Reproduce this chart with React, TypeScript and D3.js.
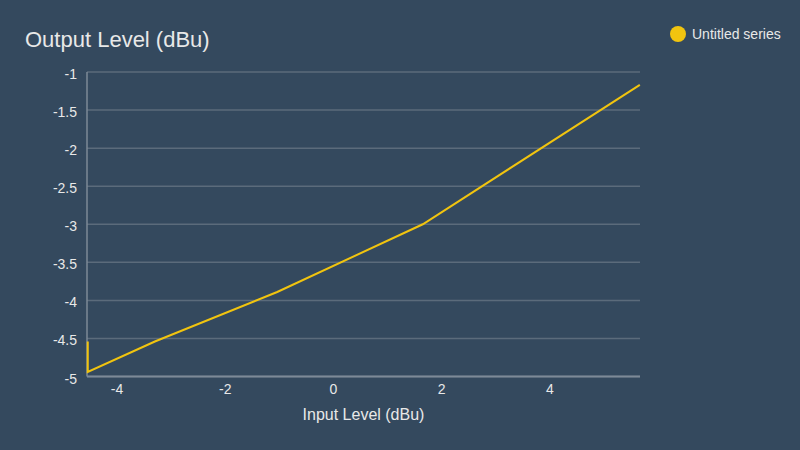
import React, { useRef, useEffect } from "react";
import * as d3 from "d3";

const inputLevels = [-4.54, -4.54, -3.3, -1.04, 1.65, 5.66];
const outputLevels = [-4.54, -4.94, -4.54, -3.89, -3.0, -1.17];
const xTicks = [-4, -2, 0, 2, 4];
const yTicks = [-1, -1.5, -2, -2.5, -3, -3.5, -4, -4.5, -5];
const seriesName = "Untitled series";

const App = () => {
  const ref = useRef(null);

  useEffect(() => {
    if (!ref.current) return;
    const width = 800;
    const height = 450;
    const margin = { top: 72, right: 160, bottom: 74, left: 87 };

    d3.select(ref.current).select("svg").remove();

    const svg = d3
      .select(ref.current)
      .append("svg")
      .attr("width", width)
      .attr("height", height)
      .style("display", "block")
      .style("font-family", "'Liberation Sans', Arial, sans-serif");

    svg.append("rect").attr("width", width).attr("height", height).attr("fill", "#34495e");

    const x = d3
      .scaleLinear()
      .domain([-4.554, 5.663])
      .range([margin.left, width - margin.right]);
    const y = d3
      .scaleLinear()
      .domain([-5, -1])
      .range([height - margin.bottom + 0.5, margin.top]);

    // horizontal grid
    svg
      .append("g")
      .selectAll("line")
      .data(yTicks)
      .join("line")
      .attr("x1", margin.left)
      .attr("x2", width - margin.right)
      .attr("y1", (d) => y(d))
      .attr("y2", (d) => y(d))
      .attr("stroke", "#5b6b7b")
      .attr("stroke-width", 1.5);

    // axes lines
    svg
      .append("line")
      .attr("x1", margin.left)
      .attr("x2", margin.left)
      .attr("y1", y(-1))
      .attr("y2", y(-5))
      .attr("stroke", "#7d8a97")
      .attr("stroke-width", 1.5);
    svg
      .append("line")
      .attr("x1", margin.left)
      .attr("x2", width - margin.right)
      .attr("y1", y(-5))
      .attr("y2", y(-5))
      .attr("stroke", "#7d8a97")
      .attr("stroke-width", 2);

    svg
      .append("g")
      .selectAll("text")
      .data(yTicks)
      .join("text")
      .attr("x", 77)
      .attr("y", (d) => y(d) + 7)
      .attr("text-anchor", "end")
      .attr("fill", "#e8e8e8")
      .attr("font-size", 14)
      .text((d) => String(d));

    svg
      .append("g")
      .selectAll("text")
      .data(xTicks)
      .join("text")
      .attr("x", (d) => x(d))
      .attr("y", 394)
      .attr("text-anchor", "middle")
      .attr("fill", "#e8e8e8")
      .attr("font-size", 14)
      .text((d) => String(d));

    svg
      .append("text")
      .attr("x", (margin.left + width - margin.right) / 2)
      .attr("y", 420)
      .attr("text-anchor", "middle")
      .attr("fill", "#e8e8e8")
      .attr("font-size", 16)
      .text("Input Level (dBu)");

    svg
      .append("text")
      .attr("x", 25)
      .attr("y", 47)
      .attr("fill", "#e8e8e8")
      .attr("font-size", 22)
      .text("Output Level (dBu)");

    const data = inputLevels.map((v, i) => [v, outputLevels[i]]);
    const line = d3
      .line()
      .x((d) => x(d[0]))
      .y((d) => y(d[1]));

    svg
      .append("path")
      .datum(data)
      .attr("fill", "none")
      .attr("stroke", "#f1c40f")
      .attr("stroke-width", 2)
      .attr("d", line);

    // legend
    svg.append("circle").attr("cx", 678).attr("cy", 34).attr("r", 8).attr("fill", "#f1c40f");
    svg
      .append("text")
      .attr("x", 692)
      .attr("y", 39)
      .attr("fill", "#e8e8e8")
      .attr("font-size", 14)
      .text(seriesName);
  }, []);

  return <div ref={ref} style={{ position: "absolute", left: 0, top: 0, width: 800, height: 450 }} />;
};

export default App;
